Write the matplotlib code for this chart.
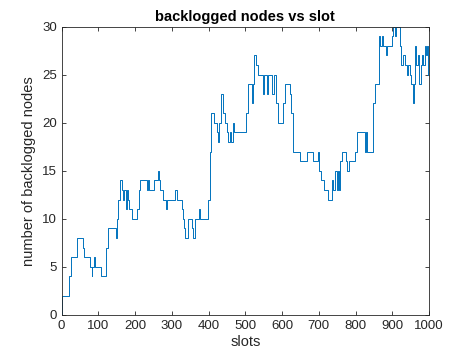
import numpy as np
import matplotlib
matplotlib.use("Agg")
import matplotlib.pyplot as plt

# slot where the backlog changes, and the new backlog value
change_slots = [0, 1, 20, 25, 41, 57, 62, 77, 82, 84, 89, 91, 107, 120, 127, 148,
                150, 153, 159, 164, 168, 170, 176, 179, 182, 184, 191, 205, 210,
                214, 232, 234, 239, 252, 262, 265, 268, 277, 285, 288, 310, 313,
                327, 330, 333, 336, 345, 356, 359, 362, 373, 377, 398, 404, 408,
                414, 422, 426, 428, 434, 440, 444, 450, 453, 458, 461, 466, 470,
                502, 507, 518, 521, 525, 530, 534, 547, 550, 560, 563, 574, 577,
                583, 589, 604, 609, 621, 625, 630, 649, 668, 683, 698, 701, 706,
                714, 725, 736, 739, 744, 749, 752, 756, 759, 763, 775, 778, 782,
                799, 804, 826, 829, 832, 847, 852, 863, 867, 872, 875, 884, 887,
                898, 903, 907, 910, 920, 925, 930, 934, 940, 944, 949, 952, 957,
                960, 963, 966, 969, 972, 977, 981, 984, 988, 991, 994, 997, 1000]
backlog = [0, 2, 4, 6, 8, 7, 6, 5, 4, 5, 6, 5, 4, 7, 9, 8,
           10, 12, 14, 13, 12, 13, 11, 13, 12, 11, 10, 11, 13,
           14, 13, 14, 13, 14, 15, 14, 13, 12, 11, 12, 13, 12,
           11, 10, 9, 8, 10, 9, 8, 10, 11, 10, 12, 17, 21,
           20, 19, 18, 20, 23, 21, 20, 19, 18, 19, 18, 20, 19,
           21, 24, 22, 24, 27, 26, 25, 23, 25, 23, 25, 23, 25,
           22, 20, 22, 24, 23, 21, 17, 16, 17, 16, 17, 15, 14,
           13, 12, 14, 13, 15, 13, 15, 13, 16, 17, 16, 15, 16,
           17, 19, 17, 19, 17, 22, 24, 29, 28, 29, 28, 27, 28,
           29, 30, 29, 30, 28, 26, 27, 26, 25, 26, 25, 24, 22,
           24, 28, 26, 27, 24, 26, 27, 26, 28, 27, 28, 25, 25]

plt.rcParams['font.family'] = ['Liberation Sans', 'DejaVu Sans']

fig = plt.figure(figsize=(4.74, 3.55), dpi=100)
ax = fig.add_axes([0.130, 0.113, 0.775, 0.812])

ax.step(change_slots, backlog, where='post', color='#0072BD', linewidth=0.7)

ax.set_xlim(0, 1000)
ax.set_ylim(0, 30)
ax.set_xticks(np.arange(0, 1001, 100))
ax.set_yticks(np.arange(0, 31, 5))

axis_grey = '#262626'
for side in ax.spines.values():
    side.set_color(axis_grey)
    side.set_linewidth(0.6)
ax.tick_params(direction='in', length=3, width=0.6, colors=axis_grey,
               labelsize=9.5, top=True, right=True, labeltop=False, labelright=False)

ax.set_title('backlogged nodes vs slot', fontsize=10.5, fontweight='bold', color='black', pad=4)
ax.set_xlabel('slots', fontsize=10.5, color=axis_grey, labelpad=2)
ax.set_ylabel('number of backlogged nodes', fontsize=10.5, color=axis_grey, labelpad=4)

fig.savefig('out.png', dpi=100)
plt.close(fig)
